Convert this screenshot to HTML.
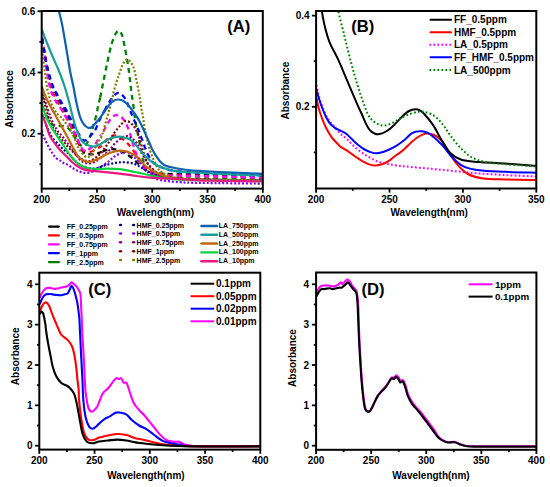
<!DOCTYPE html>
<html><head><meta charset="utf-8"><style>
html,body{margin:0;padding:0;background:#fff;}
svg{display:block;}
text{font-family:"Liberation Sans", sans-serif;fill:#000;}
</style></head><body>
<svg width="550" height="487" viewBox="0 0 550 487">
<rect x="0" y="0" width="550" height="487" fill="#fff"/>
<clipPath id="cA"><rect x="41.70" y="11.00" width="221.10" height="177.60"/></clipPath>
<path d="M41.80 104.00 C42.17 105.00 43.13 107.92 44.00 110.00 C44.87 112.08 46.00 114.58 47.00 116.50 C48.00 118.42 48.95 120.08 50.00 121.50 C51.05 122.92 52.22 124.22 53.30 125.00 C54.38 125.78 55.47 126.03 56.50 126.20 C57.53 126.37 58.28 126.00 59.50 126.00 C60.72 126.00 62.55 125.95 63.80 126.20 C65.05 126.45 66.05 126.95 67.00 127.50 C67.95 128.05 68.67 128.58 69.50 129.50 C70.33 130.42 71.10 131.67 72.00 133.00 C72.90 134.33 73.90 136.00 74.90 137.50 C75.90 139.00 76.98 140.67 78.00 142.00 C79.02 143.33 80.00 144.75 81.00 145.50 C82.00 146.25 83.03 146.83 84.00 146.50 C84.97 146.17 85.98 144.65 86.80 143.50 C87.62 142.35 88.30 140.97 88.90 139.60 C89.50 138.23 89.92 136.62 90.40 135.30 C90.88 133.98 91.27 133.50 91.80 131.70 C92.33 129.90 92.82 127.33 93.60 124.50 C94.38 121.67 95.75 117.83 96.50 114.70 C97.25 111.57 97.48 108.57 98.10 105.70 C98.72 102.83 99.35 101.37 100.20 97.50" fill="none" stroke="#008000" stroke-width="2.30" stroke-dasharray="5.1 4.0" stroke-dashoffset="6.6" stroke-linejoin="round" clip-path="url(#cA)"/>
<path d="M100.20 97.50 C101.05 93.63 102.02 88.30 103.20 82.50 C104.38 76.70 105.93 69.00 107.30 62.70 C108.67 56.40 110.03 49.48 111.40 44.70 C112.77 39.92 114.27 36.33 115.50 34.00 C116.73 31.67 117.72 30.53 118.80 30.70 C119.88 30.87 121.03 32.40 122.00 35.00 C122.97 37.60 123.62 41.40 124.60 46.30 C125.58 51.20 126.95 58.37 127.90 64.40 C128.85 70.43 129.70 77.77 130.30 82.50 C130.90 87.23 131.00 89.08 131.50 92.80 C132.00 96.52 132.70 100.35 133.30 104.80 C133.90 109.25 134.33 114.58 135.10 119.50 C135.87 124.42 136.97 129.38 137.90 134.30 C138.83 139.22 139.77 144.38 140.70 149.00 C141.63 153.62 142.43 158.30 143.50 162.00 C144.57 165.70 145.18 168.95 147.10 171.20 C149.02 173.45 151.18 174.43 155.00 175.50 C158.82 176.57 165.00 177.13 170.00 177.60 C175.00 178.07 180.00 178.17 185.00 178.30 C190.00 178.43 187.00 178.23 200.00 178.40 C213.00 178.57 252.50 179.15 263.00 179.30" fill="none" stroke="#008000" stroke-width="2.30" stroke-dasharray="5.1 4.0" stroke-dashoffset="8.99" stroke-linejoin="round" clip-path="url(#cA)"/>
<path d="M41.80 36.00 C42.28 38.83 43.77 47.75 44.70 53.00 C45.63 58.25 46.43 63.17 47.40 67.50 C48.37 71.83 49.47 75.57 50.50 79.00 C51.53 82.43 52.47 85.15 53.60 88.10 C54.73 91.05 55.97 93.93 57.30 96.70 C58.63 99.47 60.18 102.15 61.60 104.70 C63.02 107.25 64.43 109.45 65.80 112.00 C67.17 114.55 68.55 117.17 69.80 120.00 C71.05 122.83 72.18 126.08 73.30 129.00 C74.42 131.92 75.47 134.83 76.50 137.50 C77.53 140.17 78.32 142.50 79.50 145.00 C80.68 147.50 82.37 151.02 83.60 152.50 C84.83 153.98 85.38 153.60 86.90 153.90 C88.42 154.20 91.18 154.30 92.70 154.30 C94.22 154.30 94.50 154.32 96.00 153.90 C97.50 153.48 100.03 152.42 101.70 151.80" fill="none" stroke="#000000" stroke-width="2.30" stroke-dasharray="5.1 4.0" stroke-dashoffset="6.6" stroke-linejoin="round" clip-path="url(#cA)"/>
<path d="M101.70 151.80 C103.37 151.18 104.48 150.63 106.00 150.20 C107.52 149.77 109.30 149.35 110.80 149.20 C112.30 149.05 113.47 149.03 115.00 149.30 C116.53 149.57 118.42 150.22 120.00 150.80 C121.58 151.38 123.08 152.03 124.50 152.80 C125.92 153.57 127.18 154.48 128.50 155.40 C129.82 156.32 130.98 157.12 132.40 158.30 C133.82 159.48 135.43 161.05 137.00 162.50 C138.57 163.95 140.13 165.62 141.80 167.00 C143.47 168.38 144.80 169.83 147.00 170.80 C149.20 171.77 152.00 172.30 155.00 172.80 C158.00 173.30 160.83 173.55 165.00 173.80 C169.17 174.05 174.17 174.17 180.00 174.30 C185.83 174.43 186.17 174.27 200.00 174.60 C213.83 174.93 252.50 176.02 263.00 176.30" fill="none" stroke="#000000" stroke-width="2.30" stroke-dasharray="5.1 4.0" stroke-dashoffset="8.19" stroke-linejoin="round" clip-path="url(#cA)"/>
<path d="M41.80 36.00 C42.12 38.00 43.05 43.67 43.70 48.00 C44.35 52.33 45.02 57.50 45.70 62.00 C46.38 66.50 47.08 71.33 47.80 75.00 C48.52 78.67 49.25 81.20 50.00 84.00 C50.75 86.80 51.20 89.17 52.30 91.80 C53.40 94.43 55.17 97.13 56.60 99.80 C58.03 102.47 59.45 105.15 60.90 107.80 C62.35 110.45 63.82 112.97 65.30 115.70 C66.78 118.43 68.37 121.40 69.80 124.20 C71.23 127.00 72.67 129.78 73.90 132.50 C75.13 135.22 76.18 138.17 77.20 140.50 C78.22 142.83 79.07 144.88 80.00 146.50 C80.93 148.12 81.80 149.40 82.80 150.20 C83.80 151.00 84.77 151.03 86.00 151.30 C87.23 151.57 88.78 152.02 90.20 151.80 C91.62 151.58 93.13 150.68 94.50 150.00 C95.87 149.32 97.33 148.28 98.40 147.70 C99.47 147.12 99.97 147.37 100.90 146.50" fill="none" stroke="#ff0000" stroke-width="2.30" stroke-dasharray="5.1 4.0" stroke-dashoffset="6.6" stroke-linejoin="round" clip-path="url(#cA)"/>
<path d="M100.90 146.50 C101.83 145.63 102.82 143.83 104.00 142.50 C105.18 141.17 106.67 139.57 108.00 138.50 C109.33 137.43 111.00 136.60 112.00 136.10 C113.00 135.60 113.17 135.52 114.00 135.50 C114.83 135.48 115.83 135.58 117.00 136.00 C118.17 136.42 119.75 137.25 121.00 138.00 C122.25 138.75 123.38 139.58 124.50 140.50 C125.62 141.42 126.85 142.62 127.70 143.50 C128.55 144.38 128.67 144.65 129.60 145.80 C130.53 146.95 132.23 148.95 133.30 150.40 C134.37 151.85 134.88 152.90 136.00 154.50 C137.12 156.10 138.50 158.00 140.00 160.00 C141.50 162.00 143.00 164.58 145.00 166.50 C147.00 168.42 148.67 170.12 152.00 171.50 C155.33 172.88 160.33 174.10 165.00 174.80 C169.67 175.50 174.17 175.50 180.00 175.70 C185.83 175.90 186.17 175.68 200.00 176.00 C213.83 176.32 252.50 177.33 263.00 177.60" fill="none" stroke="#ff0000" stroke-width="2.30" stroke-dasharray="5.1 4.0" stroke-dashoffset="3.66" stroke-linejoin="round" clip-path="url(#cA)"/>
<path d="M41.80 35.00 C42.08 37.00 42.88 42.50 43.50 47.00 C44.12 51.50 44.83 57.33 45.50 62.00 C46.17 66.67 46.88 71.25 47.50 75.00 C48.12 78.75 48.40 81.25 49.20 84.50 C50.00 87.75 51.07 91.50 52.30 94.50 C53.53 97.50 55.05 99.98 56.60 102.50 C58.15 105.02 59.95 106.98 61.60 109.60 C63.25 112.22 64.87 115.27 66.50 118.20 C68.13 121.13 69.90 124.47 71.40 127.20 C72.90 129.93 74.27 132.13 75.50 134.60 C76.73 137.07 77.92 140.05 78.80 142.00 C79.68 143.95 80.13 145.00 80.80 146.30 C81.47 147.60 81.93 149.02 82.80 149.80 C83.67 150.58 84.80 151.22 86.00 151.00 C87.20 150.78 88.62 149.45 90.00 148.50 C91.38 147.55 93.03 146.67 94.30 145.30 C95.57 143.93 96.57 141.93 97.60 140.30 C98.63 138.67 99.53 137.00 100.50 135.50" fill="none" stroke="#ff00ff" stroke-width="2.30" stroke-dasharray="5.1 4.0" stroke-dashoffset="6.6" stroke-linejoin="round" clip-path="url(#cA)"/>
<path d="M100.50 135.50 C101.47 134.00 102.15 133.40 103.40 131.30 C104.65 129.20 106.65 125.12 108.00 122.90 C109.35 120.68 110.33 119.27 111.50 118.00 C112.67 116.73 113.67 115.65 115.00 115.30 C116.33 114.95 118.25 115.42 119.50 115.90 C120.75 116.38 121.45 117.02 122.50 118.20 C123.55 119.38 124.62 120.63 125.80 123.00 C126.98 125.37 128.35 128.73 129.60 132.40 C130.85 136.07 131.92 140.68 133.30 145.00 C134.68 149.32 136.45 154.80 137.90 158.30 C139.35 161.80 140.32 163.80 142.00 166.00 C143.68 168.20 145.00 169.97 148.00 171.50 C151.00 173.03 154.67 174.50 160.00 175.20 C165.33 175.90 173.33 175.57 180.00 175.70 C186.67 175.83 186.17 175.68 200.00 176.00 C213.83 176.32 252.50 177.33 263.00 177.60" fill="none" stroke="#ff00ff" stroke-width="2.30" stroke-dasharray="5.1 4.0" stroke-dashoffset="4.22" stroke-linejoin="round" clip-path="url(#cA)"/>
<path d="M41.80 36.50 C42.08 38.25 42.80 42.75 43.50 47.00 C44.20 51.25 45.08 57.33 46.00 62.00 C46.92 66.67 47.95 71.07 49.00 75.00 C50.05 78.93 51.13 82.70 52.30 85.60 C53.47 88.50 54.67 89.93 56.00 92.40 C57.33 94.87 58.75 97.73 60.30 100.40 C61.85 103.07 63.65 105.47 65.30 108.40 C66.95 111.33 68.67 114.98 70.20 118.00 C71.73 121.02 73.12 123.92 74.50 126.50 C75.88 129.08 77.25 131.45 78.50 133.50 C79.75 135.55 81.00 137.63 82.00 138.80 C83.00 139.97 83.58 140.38 84.50 140.50 C85.42 140.62 86.42 140.35 87.50 139.50 C88.58 138.65 90.00 136.65 91.00 135.40 C92.00 134.15 92.67 133.15 93.50 132.00 C94.33 130.85 94.95 130.57 96.00 128.50 C97.05 126.43 98.35 122.65 99.80 119.60 C101.25 116.55 103.20 113.00 104.70 110.20" fill="none" stroke="#0000ff" stroke-width="2.30" stroke-dasharray="5.1 4.0" stroke-dashoffset="6.6" stroke-linejoin="round" clip-path="url(#cA)"/>
<path d="M104.70 110.20 C106.20 107.40 107.30 105.20 108.80 102.80 C110.30 100.40 112.20 97.43 113.70 95.80 C115.20 94.17 116.58 93.30 117.80 93.00 C119.02 92.70 119.87 93.20 121.00 94.00 C122.13 94.80 123.60 96.38 124.60 97.80 C125.60 99.22 126.10 100.47 127.00 102.50 C127.90 104.53 128.97 107.42 130.00 110.00 C131.03 112.58 131.98 115.17 133.20 118.00 C134.42 120.83 136.20 124.40 137.30 127.00 C138.40 129.60 138.85 131.10 139.80 133.60 C140.75 136.10 141.80 138.85 143.00 142.00 C144.20 145.15 145.38 149.17 147.00 152.50 C148.62 155.83 150.22 159.50 152.70 162.00 C155.18 164.50 158.52 166.08 161.90 167.50 C165.28 168.92 166.65 169.60 173.00 170.50 C179.35 171.40 185.00 172.08 200.00 172.90 C215.00 173.72 252.50 174.98 263.00 175.40" fill="none" stroke="#0000ff" stroke-width="2.30" stroke-dasharray="5.1 4.0" stroke-dashoffset="0.33" stroke-linejoin="round" clip-path="url(#cA)"/>
<path d="M41.80 130.50 C42.02 131.27 42.58 133.62 43.10 135.10 C43.62 136.58 43.98 137.45 44.90 139.40 C45.82 141.35 47.37 144.53 48.60 146.80 C49.83 149.07 51.07 151.15 52.30 153.00 C53.53 154.85 54.58 156.58 56.00 157.90 C57.42 159.22 59.52 160.05 60.80 160.90 C62.08 161.75 62.60 162.38 63.70 163.00 C64.80 163.62 66.23 163.98 67.40 164.60 C68.57 165.22 69.60 166.02 70.70 166.70 C71.80 167.38 72.83 168.02 74.00 168.70 C75.17 169.38 76.55 170.25 77.70 170.80 C78.85 171.35 79.75 171.65 80.90 172.00 C82.05 172.35 83.37 172.75 84.60 172.90 C85.83 173.05 87.00 173.12 88.30 172.90 C89.60 172.68 91.12 172.17 92.40 171.60 C93.68 171.03 94.75 170.27 96.00 169.50 C97.25 168.73 98.77 167.63 99.90 167.00 C101.03 166.37 101.25 166.70 102.80 165.70 C104.35 164.70 107.20 162.55 109.20 161.00 C111.20 159.45 112.63 157.78 114.80 156.40 C116.97 155.02 120.00 153.35 122.20 152.70 C124.40 152.05 125.75 151.57 128.00 152.50 C130.25 153.43 133.40 156.30 135.70 158.30 C138.00 160.30 139.97 162.43 141.80 164.50 C143.63 166.57 145.00 168.78 146.70 170.70 C148.40 172.62 149.78 174.45 152.00 176.00 C154.22 177.55 155.33 178.97 160.00 180.00 C164.67 181.03 173.33 181.72 180.00 182.20 C186.67 182.68 186.17 182.67 200.00 182.90 C213.83 183.13 252.50 183.48 263.00 183.60" fill="none" stroke="#8000ff" stroke-width="2.20" stroke-dasharray="2 1.9"  stroke-linejoin="round" clip-path="url(#cA)"/>
<path d="M41.80 114.00 C42.10 114.52 43.13 116.07 43.60 117.10 C44.07 118.13 44.27 119.08 44.60 120.20 C44.93 121.32 45.17 122.60 45.60 123.80 C46.03 125.00 46.63 126.15 47.20 127.40 C47.77 128.65 48.45 130.10 49.00 131.30 C49.55 132.50 49.73 133.25 50.50 134.60 C51.27 135.95 52.35 137.85 53.60 139.40 C54.85 140.95 56.80 142.63 58.00 143.90 C59.20 145.17 59.78 146.00 60.80 147.00 C61.82 148.00 63.00 148.95 64.10 149.90 C65.20 150.85 66.30 151.68 67.40 152.70 C68.50 153.72 69.53 154.75 70.70 156.00 C71.87 157.25 72.85 158.73 74.40 160.20 C75.95 161.67 78.07 163.58 80.00 164.80 C81.93 166.02 84.00 166.87 86.00 167.50 C88.00 168.13 90.17 168.48 92.00 168.60 C93.83 168.72 95.05 168.68 97.00 168.20 C98.95 167.72 101.35 166.43 103.70 165.70 C106.05 164.97 108.63 164.35 111.10 163.80 C113.57 163.25 115.88 162.63 118.50 162.40 C121.12 162.17 124.18 162.17 126.80 162.40 C129.42 162.63 132.05 163.10 134.20 163.80 C136.35 164.50 138.02 165.67 139.70 166.60 C141.38 167.53 142.30 168.32 144.30 169.40 C146.30 170.48 148.25 171.70 151.70 173.10 C155.15 174.50 159.45 176.75 165.00 177.80 C170.55 178.85 179.17 179.07 185.00 179.40 C190.83 179.73 187.00 179.60 200.00 179.80 C213.00 180.00 252.50 180.47 263.00 180.60" fill="none" stroke="#000080" stroke-width="2.20" stroke-dasharray="2 1.9"  stroke-linejoin="round" clip-path="url(#cA)"/>
<path d="M41.80 91.00 C42.00 91.67 42.55 93.58 43.00 95.00 C43.45 96.42 44.00 98.00 44.50 99.50 C45.00 101.00 45.50 102.50 46.00 104.00 C46.50 105.50 46.92 106.82 47.50 108.50 C48.08 110.18 48.95 112.58 49.50 114.10 C50.05 115.62 50.33 116.42 50.80 117.60 C51.27 118.78 51.75 120.00 52.30 121.20 C52.85 122.40 53.47 123.60 54.10 124.80 C54.73 126.00 55.42 127.23 56.10 128.40 C56.78 129.57 57.42 130.77 58.20 131.80 C58.98 132.83 59.93 133.60 60.80 134.60 C61.67 135.60 62.60 136.73 63.40 137.80 C64.20 138.87 64.88 140.05 65.60 141.00 C66.32 141.95 66.97 142.58 67.70 143.50 C68.43 144.42 69.12 145.33 70.00 146.50 C70.88 147.67 71.92 149.08 73.00 150.50 C74.08 151.92 75.38 153.50 76.50 155.00 C77.62 156.50 78.52 158.25 79.70 159.50 C80.88 160.75 82.40 161.87 83.60 162.50 C84.80 163.13 85.80 163.17 86.90 163.30 C88.00 163.43 88.97 163.50 90.20 163.30 C91.43 163.10 92.83 162.82 94.30 162.10 C95.77 161.38 97.42 160.17 99.00 159.00 C100.58 157.83 101.98 156.63 103.80 155.10 C105.62 153.57 108.07 151.73 109.90 149.80 C111.73 147.87 113.07 145.32 114.80 143.50 C116.53 141.68 118.77 140.05 120.30 138.90 C121.83 137.75 122.77 137.07 124.00 136.60 C125.23 136.13 126.47 135.88 127.70 136.10 C128.93 136.32 130.32 137.22 131.40 137.90 C132.48 138.58 133.27 139.27 134.20 140.20 C135.13 141.13 135.95 141.95 137.00 143.50 C138.05 145.05 139.33 147.25 140.50 149.50 C141.67 151.75 142.58 154.42 144.00 157.00 C145.42 159.58 147.17 162.58 149.00 165.00 C150.83 167.42 152.33 169.42 155.00 171.50 C157.67 173.58 157.50 176.17 165.00 177.50 C172.50 178.83 183.67 179.02 200.00 179.50 C216.33 179.98 252.50 180.25 263.00 180.40" fill="none" stroke="#800080" stroke-width="2.20" stroke-dasharray="2 1.9"  stroke-linejoin="round" clip-path="url(#cA)"/>
<path d="M41.80 93.50 C42.17 94.75 43.30 98.58 44.00 101.00 C44.70 103.42 45.33 105.58 46.00 108.00 C46.67 110.42 47.33 113.25 48.00 115.50 C48.67 117.75 49.33 119.75 50.00 121.50 C50.67 123.25 51.33 124.70 52.00 126.00 C52.67 127.30 53.17 128.05 54.00 129.30 C54.83 130.55 56.00 132.13 57.00 133.50 C58.00 134.87 59.00 136.25 60.00 137.50 C61.00 138.75 62.00 139.83 63.00 141.00 C64.00 142.17 64.83 143.17 66.00 144.50 C67.17 145.83 68.50 147.42 70.00 149.00 C71.50 150.58 73.33 152.50 75.00 154.00 C76.67 155.50 78.33 156.92 80.00 158.00 C81.67 159.08 83.33 160.00 85.00 160.50 C86.67 161.00 88.58 161.22 90.00 161.00 C91.42 160.78 92.37 159.90 93.50 159.20 C94.63 158.50 95.77 157.62 96.80 156.80 C97.83 155.98 98.75 155.20 99.70 154.30 C100.65 153.40 101.68 152.43 102.50 151.40 C103.32 150.37 103.90 149.12 104.60 148.10 C105.30 147.08 105.95 146.32 106.70 145.30 C107.45 144.28 108.28 143.13 109.10 142.00 C109.92 140.87 110.83 139.87 111.60 138.50 C112.37 137.13 112.65 135.52 113.70 133.80 C114.75 132.08 116.80 129.60 117.90 128.20 C119.00 126.80 119.42 126.38 120.30 125.40 C121.18 124.42 122.28 123.00 123.20 122.30 C124.12 121.60 124.75 121.25 125.80 121.20 C126.85 121.15 128.27 121.30 129.50 122.00 C130.73 122.70 132.23 124.28 133.20 125.40 C134.17 126.52 134.62 127.53 135.30 128.70 C135.98 129.87 136.60 130.85 137.30 132.40 C138.00 133.95 138.63 135.23 139.50 138.00 C140.37 140.77 141.58 145.83 142.50 149.00 C143.42 152.17 144.08 154.50 145.00 157.00 C145.92 159.50 146.67 161.92 148.00 164.00 C149.33 166.08 150.67 167.53 153.00 169.50 C155.33 171.47 156.67 174.25 162.00 175.80 C167.33 177.35 178.67 178.18 185.00 178.80 C191.33 179.42 187.00 179.23 200.00 179.50 C213.00 179.77 252.50 180.25 263.00 180.40" fill="none" stroke="#800000" stroke-width="2.20" stroke-dasharray="2 1.9"  stroke-linejoin="round" clip-path="url(#cA)"/>
<path d="M41.80 50.00 C41.95 50.83 42.22 51.55 42.70 55.00 C43.18 58.45 43.97 65.28 44.70 70.70 C45.43 76.12 46.55 84.03 47.10 87.50 C47.65 90.97 47.70 90.22 48.00 91.50 C48.30 92.78 48.58 93.92 48.90 95.20 C49.22 96.48 49.53 97.87 49.90 99.20 C50.27 100.53 50.65 101.97 51.10 103.20 C51.55 104.43 52.03 105.47 52.60 106.60 C53.17 107.73 53.83 108.88 54.50 110.00 C55.17 111.12 55.70 112.27 56.60 113.30 C57.50 114.33 58.85 115.23 59.90 116.20 C60.95 117.17 62.02 118.08 62.90 119.10 C63.78 120.12 64.45 121.28 65.20 122.30 C65.95 123.32 66.62 124.12 67.40 125.20 C68.18 126.28 69.07 127.37 69.90 128.80 C70.73 130.23 71.63 132.25 72.40 133.80 C73.17 135.35 73.83 136.52 74.50 138.10 C75.17 139.68 75.87 141.88 76.40 143.30 C76.93 144.72 77.15 145.50 77.70 146.60 C78.25 147.70 78.95 148.82 79.70 149.90 C80.45 150.98 81.38 152.08 82.20 153.10 C83.02 154.12 83.67 155.32 84.60 156.00 C85.53 156.68 86.73 157.35 87.80 157.20 C88.87 157.05 89.80 156.63 91.00 155.10 C92.20 153.57 93.83 150.18 95.00 148.00 C96.17 145.82 97.02 143.68 98.00 142.00 C98.98 140.32 100.15 139.27 100.90 137.90 C101.65 136.53 102.02 135.03 102.50 133.80 C102.98 132.57 103.43 131.77 103.80 130.50 C104.17 129.23 104.20 128.15 104.70 126.20 C105.20 124.25 106.12 121.27 106.80 118.80 C107.48 116.33 108.27 113.32 108.80 111.40 C109.33 109.48 109.52 109.22 110.00 107.30 C110.48 105.38 111.22 101.82 111.70 99.90 C112.18 97.98 112.53 97.33 112.90 95.80 C113.27 94.27 113.05 93.75 113.90 90.70 C114.75 87.65 116.50 81.88 118.00 77.50 C119.50 73.12 121.25 67.40 122.90 64.40 C124.55 61.40 126.12 58.95 127.90 59.50 C129.68 60.05 132.10 63.87 133.60 67.70 C135.10 71.53 135.87 77.53 136.90 82.50 C137.93 87.47 139.05 93.08 139.80 97.50 C140.55 101.92 140.85 105.72 141.40 109.00 C141.95 112.28 142.55 113.92 143.10 117.20 C143.65 120.48 144.03 124.90 144.70 128.70 C145.37 132.50 146.08 136.00 147.10 140.00 C148.12 144.00 149.25 148.43 150.80 152.70 C152.35 156.97 154.55 162.30 156.40 165.60 C158.25 168.90 158.80 170.52 161.90 172.50 C165.00 174.48 168.65 176.37 175.00 177.50 C181.35 178.63 185.33 178.83 200.00 179.30 C214.67 179.77 252.50 180.13 263.00 180.30" fill="none" stroke="#808000" stroke-width="2.20" stroke-dasharray="2 1.9"  stroke-linejoin="round" clip-path="url(#cA)"/>
<path d="M41.80 86.00 C42.32 87.50 43.87 92.37 44.90 95.00 C45.93 97.63 46.88 99.55 48.00 101.80 C49.12 104.05 50.47 106.42 51.60 108.50 C52.73 110.58 53.65 112.22 54.80 114.30 C55.95 116.38 57.25 118.75 58.50 121.00 C59.75 123.25 61.13 125.72 62.30 127.80 C63.47 129.88 64.42 131.53 65.50 133.50 C66.58 135.47 67.72 137.55 68.80 139.60 C69.88 141.65 70.97 143.90 72.00 145.80 C73.03 147.70 73.98 149.27 75.00 151.00 C76.02 152.73 76.90 154.70 78.10 156.20 C79.30 157.70 80.80 159.10 82.20 160.00 C83.60 160.90 85.12 161.32 86.50 161.60 C87.88 161.88 89.20 161.88 90.50 161.70 C91.80 161.52 92.98 160.98 94.30 160.50 C95.62 160.02 97.03 159.45 98.40 158.80 C99.77 158.15 101.12 157.35 102.50 156.60 C103.88 155.85 105.12 155.03 106.70 154.30 C108.28 153.57 109.88 152.82 112.00 152.20 C114.12 151.58 117.23 150.77 119.40 150.60 C121.57 150.43 123.15 150.82 125.00 151.20 C126.85 151.58 128.75 152.13 130.50 152.90 C132.25 153.67 133.95 154.62 135.50 155.80 C137.05 156.98 137.87 158.08 139.80 160.00 C141.73 161.92 144.33 165.17 147.10 167.30 C149.87 169.43 153.42 171.32 156.40 172.80 C159.38 174.28 161.90 175.23 165.00 176.20 C168.10 177.17 170.83 178.02 175.00 178.60 C179.17 179.18 185.83 179.47 190.00 179.70 C194.17 179.93 187.83 179.78 200.00 180.00 C212.17 180.22 252.50 180.83 263.00 181.00" fill="none" stroke="#c06a10" stroke-width="2.20"   stroke-linejoin="round" clip-path="url(#cA)"/>
<path d="M41.80 102.00 C42.12 103.33 42.98 107.50 43.70 110.00 C44.42 112.50 45.27 114.95 46.10 117.00 C46.93 119.05 47.83 120.65 48.70 122.30 C49.57 123.95 50.45 125.45 51.30 126.90 C52.15 128.35 52.95 129.65 53.80 131.00 C54.65 132.35 55.37 133.42 56.40 135.00 C57.43 136.58 58.73 138.67 60.00 140.50 C61.27 142.33 62.63 144.00 64.00 146.00 C65.37 148.00 66.82 150.50 68.20 152.50 C69.58 154.50 70.93 156.38 72.30 158.00 C73.67 159.62 75.03 160.98 76.40 162.20 C77.77 163.42 79.13 164.45 80.50 165.30 C81.87 166.15 82.82 166.77 84.60 167.30 C86.38 167.83 88.63 168.22 91.20 168.50 C93.77 168.78 97.32 168.98 100.00 169.00 C102.68 169.02 104.03 168.57 107.30 168.60 C110.57 168.63 115.48 168.75 119.60 169.20 C123.72 169.65 127.88 170.50 132.00 171.30 C136.12 172.10 140.47 173.13 144.30 174.00 C148.13 174.87 150.72 175.70 155.00 176.50 C159.28 177.30 165.00 178.23 170.00 178.80 C175.00 179.37 180.00 179.67 185.00 179.90 C190.00 180.13 187.00 179.98 200.00 180.20 C213.00 180.42 252.50 181.03 263.00 181.20" fill="none" stroke="#10d040" stroke-width="2.20"   stroke-linejoin="round" clip-path="url(#cA)"/>
<path d="M41.80 113.50 C42.18 114.53 43.38 117.82 44.10 119.70 C44.82 121.58 45.50 123.08 46.10 124.80 C46.70 126.52 47.18 128.37 47.70 130.00 C48.22 131.63 48.48 133.02 49.20 134.60 C49.92 136.18 50.87 137.77 52.00 139.50 C53.13 141.23 54.67 143.27 56.00 145.00 C57.33 146.73 58.65 148.40 60.00 149.90 C61.35 151.40 62.73 152.63 64.10 154.00 C65.47 155.37 66.83 156.73 68.20 158.10 C69.57 159.47 70.93 160.97 72.30 162.20 C73.67 163.43 75.03 164.55 76.40 165.50 C77.77 166.45 79.13 167.22 80.50 167.90 C81.87 168.58 82.82 169.12 84.60 169.60 C86.38 170.08 88.63 170.47 91.20 170.80 C93.77 171.13 95.27 171.12 100.00 171.60 C104.73 172.08 114.27 173.08 119.60 173.70 C124.93 174.32 126.93 174.65 132.00 175.30 C137.07 175.95 141.55 176.95 150.00 177.60 C158.45 178.25 174.37 178.75 182.70 179.20 C191.03 179.65 186.62 179.93 200.00 180.30 C213.38 180.67 252.50 181.22 263.00 181.40" fill="none" stroke="#e8187f" stroke-width="2.20"   stroke-linejoin="round" clip-path="url(#cA)"/>
<path d="M41.80 29.30 C42.53 31.25 44.45 36.58 46.20 41.00 C47.95 45.42 50.25 50.97 52.30 55.80 C54.35 60.63 56.88 66.13 58.50 70.00 C60.12 73.87 60.98 76.25 62.00 79.00 C63.02 81.75 63.75 83.83 64.60 86.50 C65.45 89.17 66.27 92.08 67.10 95.00 C67.93 97.92 68.87 101.17 69.60 104.00 C70.33 106.83 70.88 109.50 71.50 112.00 C72.12 114.50 72.63 116.58 73.30 119.00 C73.97 121.42 74.77 124.25 75.50 126.50 C76.23 128.75 76.90 130.50 77.70 132.50 C78.50 134.50 79.33 136.78 80.30 138.50 C81.27 140.22 82.38 141.75 83.50 142.80 C84.62 143.85 85.83 144.27 87.00 144.80 C88.17 145.33 89.28 145.72 90.50 146.00 C91.72 146.28 92.98 146.63 94.30 146.50 C95.62 146.37 97.03 145.82 98.40 145.20 C99.77 144.58 101.12 143.62 102.50 142.80 C103.88 141.98 105.12 141.12 106.70 140.30 C108.28 139.48 109.87 138.52 112.00 137.90 C114.13 137.28 117.33 136.62 119.50 136.60 C121.67 136.58 123.17 137.27 125.00 137.80 C126.83 138.33 128.65 138.57 130.50 139.80 C132.35 141.03 133.93 142.78 136.10 145.20 C138.27 147.62 141.10 151.70 143.50 154.30 C145.90 156.90 148.42 159.05 150.50 160.80 C152.58 162.55 154.10 163.70 156.00 164.80 C157.90 165.90 159.27 166.48 161.90 167.40 C164.53 168.32 167.95 169.53 171.80 170.30 C175.65 171.07 180.30 171.57 185.00 172.00 C189.70 172.43 192.50 172.52 200.00 172.90 C207.50 173.28 219.50 173.85 230.00 174.30 C240.50 174.75 257.50 175.38 263.00 175.60" fill="none" stroke="#18a096" stroke-width="2.20"   stroke-linejoin="round" clip-path="url(#cA)"/>
<path d="M57.80 3.00 C58.00 4.33 58.27 7.33 59.00 11.00 C59.73 14.67 60.95 18.57 62.20 25.00 C63.45 31.43 65.17 41.80 66.50 49.60 C67.83 57.40 69.07 65.73 70.20 71.80 C71.33 77.87 72.38 81.47 73.30 86.00 C74.22 90.53 74.92 95.08 75.70 99.00 C76.48 102.92 77.22 106.37 78.00 109.50 C78.78 112.63 79.60 115.58 80.40 117.80 C81.20 120.02 81.95 121.43 82.80 122.80 C83.65 124.17 84.52 125.15 85.50 126.00 C86.48 126.85 87.70 127.70 88.70 127.90 C89.70 128.10 90.62 127.72 91.50 127.20 C92.38 126.68 93.03 125.78 94.00 124.80 C94.97 123.82 96.07 122.78 97.30 121.30 C98.53 119.82 100.03 117.75 101.40 115.90 C102.77 114.05 104.13 112.12 105.50 110.20 C106.87 108.28 108.23 105.98 109.60 104.40 C110.97 102.82 112.32 101.52 113.70 100.70 C115.08 99.88 116.52 99.57 117.90 99.50 C119.28 99.43 120.82 99.85 122.00 100.30 C123.18 100.75 123.92 101.33 125.00 102.20 C126.08 103.07 127.27 104.15 128.50 105.50 C129.73 106.85 131.15 108.63 132.40 110.30 C133.65 111.97 134.77 113.58 136.00 115.50 C137.23 117.42 138.55 119.47 139.80 121.80 C141.05 124.13 142.28 126.88 143.50 129.50 C144.72 132.12 146.02 135.08 147.10 137.50 C148.18 139.92 149.07 141.87 150.00 144.00 C150.93 146.13 151.62 148.22 152.70 150.30 C153.78 152.38 155.27 154.63 156.50 156.50 C157.73 158.37 158.85 160.12 160.10 161.50 C161.35 162.88 162.78 163.98 164.00 164.80 C165.22 165.62 165.57 165.87 167.40 166.40 C169.23 166.93 171.53 167.40 175.00 168.00 C178.47 168.60 184.03 169.52 188.20 170.00 C192.37 170.48 194.70 170.57 200.00 170.90 C205.30 171.23 209.50 171.52 220.00 172.00 C230.50 172.48 255.83 173.50 263.00 173.80" fill="none" stroke="#1060b0" stroke-width="2.20"   stroke-linejoin="round" clip-path="url(#cA)"/>
<rect x="41.70" y="11.00" width="221.10" height="177.60" fill="none" stroke="#000" stroke-width="2.00"/>
<line x1="41.70" y1="188.60" x2="41.70" y2="192.80" stroke="#000" stroke-width="1.80"/>
<text x="41.70" y="202.70" font-size="10.00" text-anchor="middle" font-weight="bold">200</text>
<line x1="96.98" y1="188.60" x2="96.98" y2="192.80" stroke="#000" stroke-width="1.80"/>
<text x="96.98" y="202.70" font-size="10.00" text-anchor="middle" font-weight="bold">250</text>
<line x1="152.25" y1="188.60" x2="152.25" y2="192.80" stroke="#000" stroke-width="1.80"/>
<text x="152.25" y="202.70" font-size="10.00" text-anchor="middle" font-weight="bold">300</text>
<line x1="207.53" y1="188.60" x2="207.53" y2="192.80" stroke="#000" stroke-width="1.80"/>
<text x="207.53" y="202.70" font-size="10.00" text-anchor="middle" font-weight="bold">350</text>
<line x1="262.80" y1="188.60" x2="262.80" y2="192.80" stroke="#000" stroke-width="1.80"/>
<text x="262.80" y="202.70" font-size="10.00" text-anchor="middle" font-weight="bold">400</text>
<line x1="69.34" y1="188.60" x2="69.34" y2="190.90" stroke="#000" stroke-width="1.80"/>
<line x1="124.61" y1="188.60" x2="124.61" y2="190.90" stroke="#000" stroke-width="1.80"/>
<line x1="179.89" y1="188.60" x2="179.89" y2="190.90" stroke="#000" stroke-width="1.80"/>
<line x1="235.16" y1="188.60" x2="235.16" y2="190.90" stroke="#000" stroke-width="1.80"/>
<line x1="37.50" y1="11.30" x2="41.70" y2="11.30" stroke="#000" stroke-width="1.80"/>
<text x="35.40" y="14.90" font-size="10.00" text-anchor="end" font-weight="bold">0.6</text>
<line x1="37.50" y1="72.50" x2="41.70" y2="72.50" stroke="#000" stroke-width="1.80"/>
<text x="35.40" y="76.10" font-size="10.00" text-anchor="end" font-weight="bold">0.4</text>
<line x1="37.50" y1="133.70" x2="41.70" y2="133.70" stroke="#000" stroke-width="1.80"/>
<text x="35.40" y="137.30" font-size="10.00" text-anchor="end" font-weight="bold">0.2</text>
<line x1="39.40" y1="41.90" x2="41.70" y2="41.90" stroke="#000" stroke-width="1.80"/>
<line x1="39.40" y1="103.10" x2="41.70" y2="103.10" stroke="#000" stroke-width="1.80"/>
<line x1="39.40" y1="164.30" x2="41.70" y2="164.30" stroke="#000" stroke-width="1.80"/>
<text x="0" y="0" font-size="10.00" text-anchor="middle" font-weight="bold" transform="translate(9.90 99.00) rotate(-90)" dominant-baseline="central">Absorbance</text>
<text x="116.70" y="216.00" font-size="10.00" text-anchor="start" font-weight="bold">Wavelength(nm)</text>
<text x="227.30" y="31.80" font-size="16.60" text-anchor="start" font-weight="bold">(A)</text>
<line x1="49" y1="226.60" x2="58.8" y2="226.60" stroke="#000000" stroke-width="2.3" stroke-linecap="round"/>
<text x="66.80" y="229.20" font-size="7.00" text-anchor="start" font-weight="bold">FF_0.25ppm</text>
<line x1="49" y1="235.40" x2="58.8" y2="235.40" stroke="#ff0000" stroke-width="2.3" stroke-linecap="round"/>
<text x="66.80" y="238.00" font-size="7.00" text-anchor="start" font-weight="bold">FF_0.5ppm</text>
<line x1="49" y1="244.30" x2="58.8" y2="244.30" stroke="#ff00ff" stroke-width="2.3" stroke-linecap="round"/>
<text x="66.80" y="246.90" font-size="7.00" text-anchor="start" font-weight="bold">FF_0.75ppm</text>
<line x1="49" y1="253.20" x2="58.8" y2="253.20" stroke="#0000ff" stroke-width="2.3" stroke-linecap="round"/>
<text x="66.80" y="255.80" font-size="7.00" text-anchor="start" font-weight="bold">FF_1ppm</text>
<line x1="49" y1="262.20" x2="58.8" y2="262.20" stroke="#008000" stroke-width="2.3" stroke-linecap="round"/>
<text x="66.80" y="264.80" font-size="7.00" text-anchor="start" font-weight="bold">FF_2.5ppm</text>
<ellipse cx="120.50" cy="224.90" rx="1.7" ry="1.25" fill="#000080"/>
<ellipse cx="133.60" cy="224.90" rx="1.7" ry="1.25" fill="#000080"/>
<text x="136.60" y="227.50" font-size="7.00" text-anchor="start" font-weight="bold">HMF_0.25ppm</text>
<ellipse cx="120.50" cy="233.50" rx="1.7" ry="1.25" fill="#8000ff"/>
<ellipse cx="133.60" cy="233.50" rx="1.7" ry="1.25" fill="#8000ff"/>
<text x="136.60" y="236.10" font-size="7.00" text-anchor="start" font-weight="bold">HMF_0.5ppm</text>
<ellipse cx="120.50" cy="242.30" rx="1.7" ry="1.25" fill="#800080"/>
<ellipse cx="133.60" cy="242.30" rx="1.7" ry="1.25" fill="#800080"/>
<text x="136.60" y="244.90" font-size="7.00" text-anchor="start" font-weight="bold">HMF_0.75ppm</text>
<ellipse cx="120.50" cy="251.20" rx="1.7" ry="1.25" fill="#800000"/>
<ellipse cx="133.60" cy="251.20" rx="1.7" ry="1.25" fill="#800000"/>
<text x="136.60" y="253.80" font-size="7.00" text-anchor="start" font-weight="bold">HMF_1ppm</text>
<ellipse cx="120.50" cy="260.10" rx="1.7" ry="1.25" fill="#808000"/>
<ellipse cx="133.60" cy="260.10" rx="1.7" ry="1.25" fill="#808000"/>
<text x="136.60" y="262.70" font-size="7.00" text-anchor="start" font-weight="bold">HMF_2.5ppm</text>
<line x1="201.4" y1="226.00" x2="217.1" y2="226.00" stroke="#1060b0" stroke-width="2.4" stroke-linecap="round"/>
<text x="218.80" y="228.00" font-size="7.00" text-anchor="start" font-weight="bold">LA_750ppm</text>
<line x1="201.4" y1="234.70" x2="217.1" y2="234.70" stroke="#18a096" stroke-width="2.4" stroke-linecap="round"/>
<text x="218.80" y="236.70" font-size="7.00" text-anchor="start" font-weight="bold">LA_500ppm</text>
<line x1="201.4" y1="243.50" x2="217.1" y2="243.50" stroke="#c06a10" stroke-width="2.4" stroke-linecap="round"/>
<text x="218.80" y="245.50" font-size="7.00" text-anchor="start" font-weight="bold">LA_250ppm</text>
<line x1="201.4" y1="252.40" x2="217.1" y2="252.40" stroke="#10d040" stroke-width="2.4" stroke-linecap="round"/>
<text x="218.80" y="254.40" font-size="7.00" text-anchor="start" font-weight="bold">LA_100ppm</text>
<line x1="201.4" y1="261.30" x2="217.1" y2="261.30" stroke="#e8187f" stroke-width="2.4" stroke-linecap="round"/>
<text x="218.80" y="263.30" font-size="7.00" text-anchor="start" font-weight="bold">LA_10ppm</text>
<clipPath id="cB"><rect x="316.10" y="11.00" width="220.20" height="177.50"/></clipPath>
<path d="M316.50 84.90 C316.75 86.08 317.42 89.48 318.00 92.00 C318.58 94.52 319.17 97.25 320.00 100.00 C320.83 102.75 321.93 105.83 323.00 108.50 C324.07 111.17 325.23 113.83 326.40 116.00 C327.57 118.17 328.63 119.67 330.00 121.50 C331.37 123.33 332.93 125.00 334.60 127.00 C336.27 129.00 338.07 131.60 340.00 133.50 C341.93 135.40 344.15 136.55 346.20 138.40 C348.25 140.25 350.25 142.65 352.30 144.60 C354.35 146.55 356.45 148.47 358.50 150.10 C360.55 151.73 362.55 153.07 364.60 154.40 C366.65 155.73 368.73 156.97 370.80 158.10 C372.87 159.23 374.95 160.38 377.00 161.20 C379.05 162.02 381.05 162.48 383.10 163.00 C385.15 163.52 387.03 163.88 389.30 164.30 C391.57 164.72 393.78 165.12 396.70 165.50 C399.62 165.88 401.48 166.08 406.80 166.60 C412.12 167.12 421.32 167.92 428.60 168.60 C435.88 169.28 443.22 169.98 450.50 170.70 C457.78 171.42 463.22 172.17 472.30 172.90 C481.38 173.63 494.22 174.50 505.00 175.10 C515.78 175.70 531.67 176.27 537.00 176.50" fill="none" stroke="#ff00ff" stroke-width="2.00" stroke-dasharray="1.8 2.2"  stroke-linejoin="round" clip-path="url(#cB)"/>
<path d="M316.50 98.00 C316.78 99.38 317.53 103.63 318.20 106.30 C318.87 108.97 319.68 111.53 320.50 114.00 C321.32 116.47 322.12 118.68 323.10 121.10 C324.08 123.52 325.30 126.32 326.40 128.50 C327.50 130.68 328.60 132.45 329.70 134.20 C330.80 135.95 331.63 137.37 333.00 139.00 C334.37 140.63 336.73 142.77 337.90 144.00 C339.07 145.23 338.62 145.38 340.00 146.40 C341.38 147.42 344.15 148.77 346.20 150.10 C348.25 151.43 350.25 152.97 352.30 154.40 C354.35 155.83 356.45 157.37 358.50 158.70 C360.55 160.03 362.55 161.37 364.60 162.40 C366.65 163.43 368.95 164.38 370.80 164.90 C372.65 165.42 373.85 165.60 375.70 165.50 C377.55 165.40 379.63 165.12 381.90 164.30 C384.17 163.48 387.05 162.03 389.30 160.60 C391.55 159.17 393.62 157.03 395.40 155.70 C397.18 154.37 398.40 153.80 400.00 152.60 C401.60 151.40 403.13 150.20 405.00 148.50 C406.87 146.80 409.03 144.32 411.20 142.40 C413.37 140.48 415.63 138.47 418.00 137.00 C420.37 135.53 423.23 134.10 425.40 133.60 C427.57 133.10 429.00 133.45 431.00 134.00 C433.00 134.55 435.40 135.48 437.40 136.90 C439.40 138.32 441.18 140.13 443.00 142.50 C444.82 144.87 445.97 147.48 448.30 151.10 C450.63 154.72 453.73 160.38 457.00 164.20 C460.27 168.02 463.53 171.63 467.90 174.00 C472.27 176.37 477.02 177.48 483.20 178.40 C489.38 179.32 496.03 179.23 505.00 179.50 C513.97 179.77 531.67 179.92 537.00 180.00" fill="none" stroke="#ff0000" stroke-width="2.00"   stroke-linejoin="round" clip-path="url(#cB)"/>
<path d="M316.50 89.90 C316.75 90.83 317.45 93.60 318.00 95.50 C318.55 97.40 318.97 98.88 319.80 101.30 C320.63 103.72 321.90 107.25 323.00 110.00 C324.10 112.75 325.23 115.55 326.40 117.80 C327.57 120.05 328.63 121.87 330.00 123.50 C331.37 125.13 332.93 126.43 334.60 127.60 C336.27 128.77 338.07 129.47 340.00 130.50 C341.93 131.53 344.15 132.28 346.20 133.80 C348.25 135.32 350.25 137.70 352.30 139.60 C354.35 141.50 356.45 143.55 358.50 145.20 C360.55 146.85 362.35 148.27 364.60 149.50 C366.85 150.73 369.93 151.98 372.00 152.60 C374.07 153.22 375.15 153.30 377.00 153.20 C378.85 153.10 381.05 152.62 383.10 152.00 C385.15 151.38 387.25 150.43 389.30 149.50 C391.35 148.57 393.62 147.43 395.40 146.40 C397.18 145.37 398.40 144.45 400.00 143.30 C401.60 142.15 403.13 141.12 405.00 139.50 C406.87 137.88 409.37 134.92 411.20 133.60 C413.03 132.28 414.37 132.00 416.00 131.60 C417.63 131.20 419.33 131.10 421.00 131.20 C422.67 131.30 424.37 131.62 426.00 132.20 C427.63 132.78 428.18 132.65 430.80 134.70 C433.42 136.75 438.07 140.68 441.70 144.50 C445.33 148.32 448.97 153.95 452.60 157.60 C456.23 161.25 459.13 164.28 463.50 166.40 C467.87 168.52 471.88 169.40 478.80 170.30 C485.72 171.20 495.30 171.38 505.00 171.80 C514.70 172.22 531.67 172.63 537.00 172.80" fill="none" stroke="#0000ff" stroke-width="2.00"   stroke-linejoin="round" clip-path="url(#cB)"/>
<path d="M320.50 4.00 C320.68 5.00 320.88 6.27 321.60 10.00 C322.32 13.73 323.43 20.93 324.80 26.40 C326.17 31.87 327.60 37.33 329.80 42.80 C332.00 48.27 335.00 52.65 338.00 59.20 C341.00 65.75 344.53 74.45 347.80 82.10 C351.07 89.75 355.20 99.62 357.60 105.10 C360.00 110.58 360.82 111.92 362.20 115.00 C363.58 118.08 364.67 121.13 365.90 123.60 C367.13 126.07 368.17 128.15 369.60 129.80 C371.03 131.45 372.87 132.78 374.50 133.50 C376.13 134.22 377.35 134.52 379.40 134.10 C381.45 133.68 384.33 132.53 386.80 131.00 C389.27 129.47 391.58 127.37 394.20 124.90 C396.82 122.43 400.03 118.52 402.50 116.20 C404.97 113.88 406.83 112.17 409.00 111.00 C411.17 109.83 413.67 109.28 415.50 109.20 C417.33 109.12 418.53 109.70 420.00 110.50 C421.47 111.30 422.13 111.60 424.30 114.00 C426.47 116.40 430.10 120.53 433.00 124.90 C435.90 129.27 438.78 135.47 441.70 140.20 C444.62 144.93 447.22 150.03 450.50 153.30 C453.78 156.57 456.68 158.35 461.40 159.80 C466.12 161.25 471.53 161.37 478.80 162.00 C486.07 162.63 495.30 162.93 505.00 163.60 C514.70 164.27 531.67 165.60 537.00 166.00" fill="none" stroke="#000000" stroke-width="2.00"   stroke-linejoin="round" clip-path="url(#cB)"/>
<path d="M336.00 0.00 C336.33 1.67 336.58 3.97 338.00 10.00 C339.42 16.03 342.32 27.45 344.50 36.20 C346.68 44.95 348.92 54.30 351.10 62.50 C353.28 70.70 355.42 78.30 357.60 85.40 C359.78 92.50 362.42 100.17 364.20 105.10 C365.98 110.03 367.00 112.53 368.30 115.00 C369.60 117.47 370.55 118.47 372.00 119.90 C373.45 121.33 375.15 122.67 377.00 123.60 C378.85 124.53 381.05 125.40 383.10 125.50 C385.15 125.60 387.25 124.92 389.30 124.20 C391.35 123.48 393.62 122.15 395.40 121.20 C397.18 120.25 398.23 119.45 400.00 118.50 C401.77 117.55 403.77 116.43 406.00 115.50 C408.23 114.57 411.07 113.55 413.40 112.90 C415.73 112.25 418.07 111.75 420.00 111.60 C421.93 111.45 423.17 111.60 425.00 112.00 C426.83 112.40 428.93 112.93 431.00 114.00 C433.07 115.07 435.23 116.40 437.40 118.40 C439.57 120.40 441.82 123.10 444.00 126.00 C446.18 128.90 447.60 131.98 450.50 135.80 C453.40 139.62 457.77 145.27 461.40 148.90 C465.03 152.53 468.30 155.42 472.30 157.60 C476.30 159.78 479.95 160.90 485.40 162.00 C490.85 163.10 496.40 163.47 505.00 164.20 C513.60 164.93 531.67 166.03 537.00 166.40" fill="none" stroke="#008000" stroke-width="2.00" stroke-dasharray="1.8 2.2"  stroke-linejoin="round" clip-path="url(#cB)"/>
<rect x="316.10" y="11.00" width="220.20" height="177.50" fill="none" stroke="#000" stroke-width="2.00"/>
<line x1="316.10" y1="188.50" x2="316.10" y2="192.70" stroke="#000" stroke-width="1.80"/>
<text x="316.10" y="202.60" font-size="10.00" text-anchor="middle" font-weight="bold">200</text>
<line x1="389.50" y1="188.50" x2="389.50" y2="192.70" stroke="#000" stroke-width="1.80"/>
<text x="389.50" y="202.60" font-size="10.00" text-anchor="middle" font-weight="bold">250</text>
<line x1="462.90" y1="188.50" x2="462.90" y2="192.70" stroke="#000" stroke-width="1.80"/>
<text x="462.90" y="202.60" font-size="10.00" text-anchor="middle" font-weight="bold">300</text>
<line x1="536.30" y1="188.50" x2="536.30" y2="192.70" stroke="#000" stroke-width="1.80"/>
<text x="536.30" y="202.60" font-size="10.00" text-anchor="middle" font-weight="bold">350</text>
<line x1="352.80" y1="188.50" x2="352.80" y2="190.80" stroke="#000" stroke-width="1.80"/>
<line x1="426.20" y1="188.50" x2="426.20" y2="190.80" stroke="#000" stroke-width="1.80"/>
<line x1="499.60" y1="188.50" x2="499.60" y2="190.80" stroke="#000" stroke-width="1.80"/>
<line x1="311.90" y1="15.60" x2="316.10" y2="15.60" stroke="#000" stroke-width="1.80"/>
<text x="309.60" y="19.20" font-size="10.00" text-anchor="end" font-weight="bold">0.4</text>
<line x1="311.90" y1="106.80" x2="316.10" y2="106.80" stroke="#000" stroke-width="1.80"/>
<text x="309.60" y="110.40" font-size="10.00" text-anchor="end" font-weight="bold">0.2</text>
<line x1="313.80" y1="61.20" x2="316.10" y2="61.20" stroke="#000" stroke-width="1.80"/>
<line x1="313.80" y1="152.40" x2="316.10" y2="152.40" stroke="#000" stroke-width="1.80"/>
<text x="0" y="0" font-size="10.00" text-anchor="middle" font-weight="bold" transform="translate(285.70 90.60) rotate(-90)" dominant-baseline="central">Absorbance</text>
<text x="390.50" y="216.20" font-size="10.00" text-anchor="start" font-weight="bold">Wavelength(nm)</text>
<text x="351.20" y="31.60" font-size="16.60" text-anchor="start" font-weight="bold">(B)</text>
<line x1="430.5" y1="19.70" x2="451.1" y2="19.70" stroke="#000000" stroke-width="2" stroke-linecap="round"/>
<text x="454.00" y="23.30" font-size="10.00" text-anchor="start" font-weight="bold">FF_0.5ppm</text>
<line x1="430.5" y1="32.20" x2="451.1" y2="32.20" stroke="#ff0000" stroke-width="2" stroke-linecap="round"/>
<text x="454.00" y="35.80" font-size="10.00" text-anchor="start" font-weight="bold">HMF_0.5ppm</text>
<line x1="429.4" y1="44.80" x2="451.4" y2="44.80" stroke="#ff00ff" stroke-width="2" stroke-dasharray="1.8 2.2"/>
<text x="454.00" y="48.40" font-size="10.00" text-anchor="start" font-weight="bold">LA_0.5ppm</text>
<line x1="430.5" y1="57.30" x2="451.1" y2="57.30" stroke="#0000ff" stroke-width="2" stroke-linecap="round"/>
<text x="454.00" y="60.90" font-size="10.00" text-anchor="start" font-weight="bold">FF_HMF_0.5ppm</text>
<line x1="429.4" y1="69.90" x2="451.4" y2="69.90" stroke="#008000" stroke-width="2" stroke-dasharray="1.8 2.2"/>
<text x="454.00" y="73.50" font-size="10.00" text-anchor="start" font-weight="bold">LA_500ppm</text>
<clipPath id="cC"><rect x="39.30" y="272.70" width="221.00" height="176.90"/></clipPath>
<path d="M39.80 297.80 C40.12 297.08 40.77 295.03 41.70 293.50 C42.63 291.97 43.97 289.53 45.40 288.60 C46.83 287.67 48.95 287.87 50.30 287.90 C51.65 287.93 52.47 288.68 53.50 288.80 C54.53 288.92 55.50 288.73 56.50 288.60 C57.50 288.47 58.48 288.22 59.50 288.00 C60.52 287.78 61.25 287.62 62.60 287.30 C63.95 286.98 66.45 286.57 67.60 286.10 C68.75 285.63 68.88 285.12 69.50 284.50 C70.12 283.88 70.72 282.60 71.30 282.40 C71.88 282.20 72.38 282.88 73.00 283.30 C73.62 283.72 74.05 283.82 75.00 284.90 C75.95 285.98 77.78 288.17 78.70 289.80 C79.62 291.43 80.10 292.03 80.50 294.70 C80.90 297.37 80.90 301.90 81.10 305.80 C81.30 309.70 81.48 313.23 81.70 318.10 C81.92 322.97 82.08 328.92 82.40 335.00 C82.72 341.08 83.20 347.22 83.60 354.60 C84.00 361.98 84.50 373.40 84.80 379.30 C85.10 385.20 85.17 387.13 85.40 390.00 C85.63 392.87 85.70 393.50 86.20 396.50 C86.70 399.50 87.43 405.48 88.40 408.00 C89.37 410.52 90.80 411.48 92.00 411.60 C93.20 411.72 94.60 409.78 95.60 408.70 C96.60 407.62 96.82 407.62 98.00 405.10 C99.18 402.58 101.00 396.42 102.70 393.60 C104.40 390.78 106.38 390.32 108.20 388.20 C110.02 386.08 112.23 382.57 113.60 380.90 C114.97 379.23 115.48 378.50 116.40 378.20 C117.32 377.90 118.28 379.10 119.10 379.10 C119.92 379.10 120.55 377.60 121.30 378.20 C122.05 378.80 122.75 381.95 123.60 382.70 C124.45 383.45 125.48 381.48 126.40 382.70 C127.32 383.92 127.90 386.67 129.10 390.00 C130.30 393.33 131.93 399.37 133.60 402.70 C135.27 406.03 137.28 407.87 139.10 410.00 C140.92 412.13 142.38 413.08 144.50 415.50 C146.62 417.92 149.37 421.48 151.80 424.50 C154.23 427.52 156.67 431.02 159.10 433.60 C161.53 436.18 163.98 438.63 166.40 440.00 C168.82 441.37 171.48 441.50 173.60 441.80 C175.72 442.10 177.28 441.35 179.10 441.80 C180.92 442.25 182.68 443.87 184.50 444.50 C186.32 445.13 187.42 445.33 190.00 445.60 C192.58 445.87 188.17 446.02 200.00 446.10 C211.83 446.18 250.83 446.10 261.00 446.10" fill="none" stroke="#ff00ff" stroke-width="2.10"   stroke-linejoin="round" clip-path="url(#cC)"/>
<path d="M39.80 304.00 C40.32 302.87 41.97 298.77 42.90 297.20 C43.83 295.63 44.57 295.12 45.40 294.60 C46.23 294.08 46.97 294.20 47.90 294.10 C48.83 294.00 49.98 293.90 51.00 294.00 C52.02 294.10 53.00 294.53 54.00 294.70 C55.00 294.87 55.97 294.90 57.00 295.00 C58.03 295.10 59.03 295.38 60.20 295.30 C61.37 295.22 62.77 294.80 64.00 294.50 C65.23 294.20 66.68 294.25 67.60 293.50 C68.52 292.75 68.88 291.23 69.50 290.00 C70.12 288.77 70.72 286.50 71.30 286.10 C71.88 285.70 72.35 286.28 73.00 287.60 C73.65 288.92 74.47 291.38 75.20 294.00 C75.93 296.62 76.72 299.28 77.40 303.30 C78.08 307.32 78.88 313.65 79.30 318.10 C79.72 322.55 79.60 323.92 79.90 330.00 C80.20 336.08 80.68 346.38 81.10 354.60 C81.52 362.82 82.03 371.83 82.40 379.30 C82.77 386.77 82.78 393.17 83.30 399.40 C83.82 405.63 84.53 412.17 85.50 416.70 C86.47 421.23 87.90 424.60 89.10 426.60 C90.30 428.60 91.63 428.63 92.70 428.70 C93.77 428.77 94.43 427.85 95.50 427.00 C96.57 426.15 97.60 424.92 99.10 423.60 C100.60 422.28 102.68 420.30 104.50 419.10 C106.32 417.90 108.17 417.47 110.00 416.40 C111.83 415.33 113.68 413.32 115.50 412.70 C117.32 412.08 119.08 412.40 120.90 412.70 C122.72 413.00 124.58 413.28 126.40 414.50 C128.22 415.72 129.68 418.17 131.80 420.00 C133.92 421.83 136.67 423.98 139.10 425.50 C141.53 427.02 143.98 427.60 146.40 429.10 C148.82 430.60 150.88 432.53 153.60 434.50 C156.32 436.47 159.67 439.38 162.70 440.90 C165.73 442.42 168.77 443.00 171.80 443.60 C174.83 444.20 177.87 444.10 180.90 444.50 C183.93 444.90 176.65 445.72 190.00 446.00 C203.35 446.28 249.17 446.17 261.00 446.20" fill="none" stroke="#0000ff" stroke-width="2.10"   stroke-linejoin="round" clip-path="url(#cC)"/>
<path d="M39.80 311.30 C40.32 310.18 41.87 306.08 42.90 304.60 C43.93 303.12 44.97 302.20 46.00 302.40 C47.03 302.60 47.97 303.58 49.10 305.80 C50.23 308.02 51.57 312.62 52.80 315.70 C54.03 318.78 55.48 321.92 56.50 324.30 C57.52 326.68 58.08 328.23 58.90 330.00 C59.72 331.77 59.95 333.25 61.40 334.90 C62.85 336.55 65.85 338.05 67.60 339.90 C69.35 341.75 70.78 343.55 71.90 346.00 C73.02 348.45 73.58 351.10 74.30 354.60 C75.02 358.10 75.68 362.88 76.20 367.00 C76.72 371.12 76.98 375.47 77.40 379.30 C77.82 383.13 78.43 386.65 78.70 390.00 C78.97 393.35 78.58 394.72 79.00 399.40 C79.42 404.08 80.37 412.58 81.20 418.10 C82.03 423.62 82.80 428.90 84.00 432.50 C85.20 436.10 86.72 438.48 88.40 439.70 C90.08 440.92 92.32 440.15 94.10 439.80 C95.88 439.45 96.75 438.32 99.10 437.60 C101.45 436.88 105.17 436.10 108.20 435.50 C111.23 434.90 114.27 434.07 117.30 434.00 C120.33 433.93 123.37 434.40 126.40 435.10 C129.43 435.80 132.48 437.38 135.50 438.20 C138.52 439.02 139.97 439.00 144.50 440.00 C149.03 441.00 155.12 443.17 162.70 444.20 C170.28 445.23 173.62 445.85 190.00 446.20 C206.38 446.55 249.17 446.28 261.00 446.30" fill="none" stroke="#ff0000" stroke-width="2.10"   stroke-linejoin="round" clip-path="url(#cC)"/>
<path d="M39.80 314.00 C40.03 313.58 40.75 311.75 41.20 311.50 C41.65 311.25 42.12 312.02 42.50 312.50 C42.88 312.98 43.02 312.43 43.50 314.40 C43.98 316.37 44.98 321.70 45.40 324.30 C45.82 326.90 45.58 327.00 46.00 330.00 C46.42 333.00 47.18 338.20 47.90 342.30 C48.62 346.40 49.48 350.48 50.30 354.60 C51.12 358.72 51.77 363.30 52.80 367.00 C53.83 370.70 55.07 374.13 56.50 376.80 C57.93 379.47 59.77 381.57 61.40 383.00 C63.03 384.43 64.92 384.58 66.30 385.40 C67.68 386.22 68.42 386.53 69.70 387.90 C70.98 389.27 72.82 390.97 74.00 393.60 C75.18 396.23 75.85 399.38 76.80 403.70 C77.75 408.02 78.73 414.47 79.70 419.50 C80.67 424.53 81.40 430.18 82.60 433.90 C83.80 437.62 85.22 440.23 86.90 441.80 C88.58 443.37 90.67 443.35 92.70 443.30 C94.73 443.25 96.52 441.97 99.10 441.50 C101.68 441.03 105.17 440.82 108.20 440.50 C111.23 440.18 114.27 439.60 117.30 439.60 C120.33 439.60 123.37 440.03 126.40 440.50 C129.43 440.97 132.48 441.90 135.50 442.40 C138.52 442.90 139.97 443.02 144.50 443.50 C149.03 443.98 155.12 444.82 162.70 445.30 C170.28 445.78 173.62 446.22 190.00 446.40 C206.38 446.58 249.17 446.40 261.00 446.40" fill="none" stroke="#000000" stroke-width="2.10"   stroke-linejoin="round" clip-path="url(#cC)"/>
<rect x="39.30" y="272.70" width="221.00" height="176.90" fill="none" stroke="#000" stroke-width="2.00"/>
<line x1="39.30" y1="449.60" x2="39.30" y2="453.80" stroke="#000" stroke-width="1.80"/>
<text x="39.30" y="463.80" font-size="10.00" text-anchor="middle" font-weight="bold">200</text>
<line x1="94.55" y1="449.60" x2="94.55" y2="453.80" stroke="#000" stroke-width="1.80"/>
<text x="94.55" y="463.80" font-size="10.00" text-anchor="middle" font-weight="bold">250</text>
<line x1="149.80" y1="449.60" x2="149.80" y2="453.80" stroke="#000" stroke-width="1.80"/>
<text x="149.80" y="463.80" font-size="10.00" text-anchor="middle" font-weight="bold">300</text>
<line x1="205.05" y1="449.60" x2="205.05" y2="453.80" stroke="#000" stroke-width="1.80"/>
<text x="205.05" y="463.80" font-size="10.00" text-anchor="middle" font-weight="bold">350</text>
<line x1="260.30" y1="449.60" x2="260.30" y2="453.80" stroke="#000" stroke-width="1.80"/>
<text x="260.30" y="463.80" font-size="10.00" text-anchor="middle" font-weight="bold">400</text>
<line x1="66.92" y1="449.60" x2="66.92" y2="451.90" stroke="#000" stroke-width="1.80"/>
<line x1="122.17" y1="449.60" x2="122.17" y2="451.90" stroke="#000" stroke-width="1.80"/>
<line x1="177.43" y1="449.60" x2="177.43" y2="451.90" stroke="#000" stroke-width="1.80"/>
<line x1="232.68" y1="449.60" x2="232.68" y2="451.90" stroke="#000" stroke-width="1.80"/>
<line x1="35.10" y1="284.30" x2="39.30" y2="284.30" stroke="#000" stroke-width="1.80"/>
<text x="32.60" y="287.90" font-size="10.00" text-anchor="end" font-weight="bold">4</text>
<line x1="35.10" y1="324.65" x2="39.30" y2="324.65" stroke="#000" stroke-width="1.80"/>
<text x="32.60" y="328.25" font-size="10.00" text-anchor="end" font-weight="bold">3</text>
<line x1="35.10" y1="365.00" x2="39.30" y2="365.00" stroke="#000" stroke-width="1.80"/>
<text x="32.60" y="368.60" font-size="10.00" text-anchor="end" font-weight="bold">2</text>
<line x1="35.10" y1="405.35" x2="39.30" y2="405.35" stroke="#000" stroke-width="1.80"/>
<text x="32.60" y="408.95" font-size="10.00" text-anchor="end" font-weight="bold">1</text>
<line x1="35.10" y1="445.70" x2="39.30" y2="445.70" stroke="#000" stroke-width="1.80"/>
<text x="32.60" y="449.30" font-size="10.00" text-anchor="end" font-weight="bold">0</text>
<line x1="37.00" y1="304.48" x2="39.30" y2="304.48" stroke="#000" stroke-width="1.80"/>
<line x1="37.00" y1="344.83" x2="39.30" y2="344.83" stroke="#000" stroke-width="1.80"/>
<line x1="37.00" y1="385.18" x2="39.30" y2="385.18" stroke="#000" stroke-width="1.80"/>
<line x1="37.00" y1="425.52" x2="39.30" y2="425.52" stroke="#000" stroke-width="1.80"/>
<text x="0" y="0" font-size="10.00" text-anchor="middle" font-weight="bold" transform="translate(15.40 356.30) rotate(-90)" dominant-baseline="central">Absorbance</text>
<text x="107.30" y="479.00" font-size="10.00" text-anchor="start" font-weight="bold">Wavelength(nm)</text>
<text x="88.20" y="295.00" font-size="16.60" text-anchor="start" font-weight="bold">(C)</text>
<line x1="190.6" y1="283.70" x2="214.2" y2="283.70" stroke="#000000" stroke-width="2"/>
<text x="216.00" y="287.40" font-size="10.00" text-anchor="start" font-weight="bold">0.1ppm</text>
<line x1="190.6" y1="296.20" x2="214.2" y2="296.20" stroke="#ff0000" stroke-width="2"/>
<text x="216.00" y="299.90" font-size="10.00" text-anchor="start" font-weight="bold">0.05ppm</text>
<line x1="190.6" y1="308.70" x2="214.2" y2="308.70" stroke="#0000ff" stroke-width="2"/>
<text x="216.00" y="312.40" font-size="10.00" text-anchor="start" font-weight="bold">0.02ppm</text>
<line x1="190.6" y1="321.30" x2="214.2" y2="321.30" stroke="#ff00ff" stroke-width="2"/>
<text x="216.00" y="325.00" font-size="10.00" text-anchor="start" font-weight="bold">0.01ppm</text>
<clipPath id="cD"><rect x="316.10" y="272.50" width="220.30" height="177.30"/></clipPath>
<path d="M316.40 294.10 C316.77 293.18 317.77 289.97 318.60 288.60 C319.43 287.23 320.48 286.42 321.40 285.90 C322.32 285.38 322.90 285.57 324.10 285.50 C325.30 285.43 327.08 285.35 328.60 285.50 C330.12 285.65 331.68 286.48 333.20 286.40 C334.72 286.32 336.42 285.68 337.70 285.00 C338.98 284.32 340.13 282.45 340.90 282.30 C341.67 282.15 341.62 284.25 342.30 284.10 C342.98 283.95 344.17 282.17 345.00 281.40 C345.83 280.63 346.55 279.58 347.30 279.50 C348.05 279.42 348.67 279.83 349.50 280.90 C350.33 281.97 351.38 284.53 352.30 285.90 C353.22 287.27 354.25 288.03 355.00 289.10 C355.75 290.17 356.27 289.65 356.80 292.30 C357.33 294.95 357.90 300.93 358.20 305.00 C358.50 309.07 358.37 310.32 358.60 316.70 C358.83 323.08 359.17 334.42 359.60 343.30 C360.03 352.18 360.78 363.47 361.20 370.00 C361.62 376.53 361.65 377.52 362.10 382.50 C362.55 387.48 363.32 395.48 363.90 399.90 C364.48 404.32 364.88 407.08 365.60 409.00 C366.32 410.92 367.33 411.27 368.20 411.40 C369.07 411.53 369.77 411.27 370.80 409.80 C371.83 408.33 373.22 404.98 374.40 402.60 C375.58 400.22 376.73 397.43 377.90 395.50 C379.07 393.57 380.10 392.50 381.40 391.00 C382.70 389.50 384.40 388.13 385.70 386.50 C387.00 384.87 388.18 382.73 389.20 381.20 C390.22 379.67 390.93 377.87 391.80 377.30 C392.67 376.73 393.68 378.13 394.40 377.80 C395.12 377.47 395.37 375.33 396.10 375.30 C396.83 375.27 398.05 376.62 398.80 377.60 C399.55 378.58 399.87 380.77 400.60 381.20 C401.33 381.63 402.33 379.33 403.20 380.20 C404.07 381.07 404.93 383.90 405.80 386.40 C406.67 388.90 407.23 392.43 408.40 395.20 C409.57 397.97 411.20 400.67 412.80 403.00 C414.40 405.33 416.25 407.15 418.00 409.20 C419.75 411.25 421.55 413.12 423.30 415.30 C425.05 417.48 426.77 419.97 428.50 422.30 C430.23 424.63 432.03 426.92 433.70 429.30 C435.37 431.68 436.93 434.75 438.50 436.60 C440.07 438.45 441.52 439.47 443.10 440.40 C444.68 441.33 446.10 441.95 448.00 442.20 C449.90 442.45 452.58 441.62 454.50 441.90 C456.42 442.18 457.85 443.30 459.50 443.90 C461.15 444.50 462.65 445.12 464.40 445.50 C466.15 445.88 467.40 446.07 470.00 446.20 C472.60 446.33 468.83 446.28 480.00 446.30 C491.17 446.32 527.50 446.30 537.00 446.30" fill="none" stroke="#ff00ff" stroke-width="2.10"   stroke-linejoin="round" clip-path="url(#cD)"/>
<path d="M316.40 296.40 C316.77 295.72 317.77 293.52 318.60 292.30 C319.43 291.08 320.48 289.63 321.40 289.10 C322.32 288.57 323.20 289.18 324.10 289.10 C325.00 289.02 325.90 288.75 326.80 288.60 C327.70 288.45 328.58 288.12 329.50 288.20 C330.42 288.28 331.38 289.03 332.30 289.10 C333.22 289.17 333.95 288.83 335.00 288.60 C336.05 288.37 337.53 287.85 338.60 287.70 C339.67 287.55 340.63 287.92 341.40 287.70 C342.17 287.48 342.45 287.00 343.20 286.40 C343.95 285.80 345.12 284.78 345.90 284.10 C346.68 283.42 347.30 282.30 347.90 282.30 C348.50 282.30 348.92 283.35 349.50 284.10 C350.08 284.85 350.78 285.97 351.40 286.80 C352.02 287.63 352.52 288.33 353.20 289.10 C353.88 289.87 354.90 290.42 355.50 291.40 C356.10 292.38 356.45 292.73 356.80 295.00 C357.15 297.27 357.38 301.38 357.60 305.00 C357.82 308.62 357.83 310.32 358.10 316.70 C358.37 323.08 358.75 334.42 359.20 343.30 C359.65 352.18 360.38 363.47 360.80 370.00 C361.22 376.53 361.25 377.52 361.70 382.50 C362.15 387.48 362.92 395.45 363.50 399.90 C364.08 404.35 364.47 407.22 365.20 409.20 C365.93 411.18 367.02 411.60 367.90 411.80 C368.78 412.00 369.48 411.80 370.50 410.40 C371.52 409.00 372.83 405.73 374.00 403.40 C375.17 401.07 376.33 398.28 377.50 396.40 C378.67 394.52 379.70 393.55 381.00 392.10 C382.30 390.65 384.00 389.30 385.30 387.70 C386.60 386.10 387.78 384.02 388.80 382.50 C389.82 380.98 390.52 379.18 391.40 378.60 C392.28 378.02 393.37 379.28 394.10 379.00 C394.83 378.72 395.08 376.90 395.80 376.90 C396.52 376.90 397.67 378.07 398.40 379.00 C399.13 379.93 399.47 382.07 400.20 382.50 C400.93 382.93 401.93 380.73 402.80 381.60 C403.67 382.47 404.53 385.23 405.40 387.70 C406.27 390.17 406.83 393.63 408.00 396.40 C409.17 399.17 410.80 401.97 412.40 404.30 C414.00 406.63 415.85 408.28 417.60 410.40 C419.35 412.52 421.15 414.73 422.90 417.00 C424.65 419.27 426.37 421.67 428.10 424.00 C429.83 426.33 431.62 428.75 433.30 431.00 C434.98 433.25 436.57 435.85 438.20 437.50 C439.83 439.15 441.47 440.07 443.10 440.90 C444.73 441.73 446.10 442.28 448.00 442.50 C449.90 442.72 452.58 441.92 454.50 442.20 C456.42 442.48 457.85 443.60 459.50 444.20 C461.15 444.80 462.65 445.42 464.40 445.80 C466.15 446.18 467.40 446.37 470.00 446.50 C472.60 446.63 468.83 446.58 480.00 446.60 C491.17 446.62 527.50 446.60 537.00 446.60" fill="none" stroke="#000000" stroke-width="2.10"   stroke-linejoin="round" clip-path="url(#cD)"/>
<rect x="316.10" y="272.50" width="220.30" height="177.30" fill="none" stroke="#000" stroke-width="2.00"/>
<line x1="316.10" y1="449.80" x2="316.10" y2="454.00" stroke="#000" stroke-width="1.80"/>
<text x="316.10" y="463.80" font-size="10.00" text-anchor="middle" font-weight="bold">200</text>
<line x1="371.18" y1="449.80" x2="371.18" y2="454.00" stroke="#000" stroke-width="1.80"/>
<text x="371.18" y="463.80" font-size="10.00" text-anchor="middle" font-weight="bold">250</text>
<line x1="426.25" y1="449.80" x2="426.25" y2="454.00" stroke="#000" stroke-width="1.80"/>
<text x="426.25" y="463.80" font-size="10.00" text-anchor="middle" font-weight="bold">300</text>
<line x1="481.32" y1="449.80" x2="481.32" y2="454.00" stroke="#000" stroke-width="1.80"/>
<text x="481.32" y="463.80" font-size="10.00" text-anchor="middle" font-weight="bold">350</text>
<line x1="536.40" y1="449.80" x2="536.40" y2="454.00" stroke="#000" stroke-width="1.80"/>
<text x="536.40" y="463.80" font-size="10.00" text-anchor="middle" font-weight="bold">400</text>
<line x1="343.64" y1="449.80" x2="343.64" y2="452.10" stroke="#000" stroke-width="1.80"/>
<line x1="398.71" y1="449.80" x2="398.71" y2="452.10" stroke="#000" stroke-width="1.80"/>
<line x1="453.79" y1="449.80" x2="453.79" y2="452.10" stroke="#000" stroke-width="1.80"/>
<line x1="508.86" y1="449.80" x2="508.86" y2="452.10" stroke="#000" stroke-width="1.80"/>
<line x1="311.90" y1="284.30" x2="316.10" y2="284.30" stroke="#000" stroke-width="1.80"/>
<text x="309.00" y="287.90" font-size="10.00" text-anchor="end" font-weight="bold">4</text>
<line x1="311.90" y1="324.65" x2="316.10" y2="324.65" stroke="#000" stroke-width="1.80"/>
<text x="309.00" y="328.25" font-size="10.00" text-anchor="end" font-weight="bold">3</text>
<line x1="311.90" y1="365.00" x2="316.10" y2="365.00" stroke="#000" stroke-width="1.80"/>
<text x="309.00" y="368.60" font-size="10.00" text-anchor="end" font-weight="bold">2</text>
<line x1="311.90" y1="405.35" x2="316.10" y2="405.35" stroke="#000" stroke-width="1.80"/>
<text x="309.00" y="408.95" font-size="10.00" text-anchor="end" font-weight="bold">1</text>
<line x1="311.90" y1="445.70" x2="316.10" y2="445.70" stroke="#000" stroke-width="1.80"/>
<text x="309.00" y="449.30" font-size="10.00" text-anchor="end" font-weight="bold">0</text>
<line x1="313.80" y1="304.48" x2="316.10" y2="304.48" stroke="#000" stroke-width="1.80"/>
<line x1="313.80" y1="344.83" x2="316.10" y2="344.83" stroke="#000" stroke-width="1.80"/>
<line x1="313.80" y1="385.18" x2="316.10" y2="385.18" stroke="#000" stroke-width="1.80"/>
<line x1="313.80" y1="425.52" x2="316.10" y2="425.52" stroke="#000" stroke-width="1.80"/>
<text x="0" y="0" font-size="10.00" text-anchor="middle" font-weight="bold" transform="translate(292.20 358.00) rotate(-90)" dominant-baseline="central">Absorbance</text>
<text x="392.30" y="479.00" font-size="10.00" text-anchor="start" font-weight="bold">Wavelength(nm)</text>
<text x="361.50" y="294.90" font-size="16.60" text-anchor="start" font-weight="bold">(D)</text>
<line x1="468.6" y1="284.30" x2="492.6" y2="284.30" stroke="#ff00ff" stroke-width="2"/>
<text x="494.90" y="287.80" font-size="9.80" text-anchor="start" font-weight="bold">1ppm</text>
<line x1="468.6" y1="296.60" x2="492.6" y2="296.60" stroke="#000000" stroke-width="2"/>
<text x="494.90" y="300.10" font-size="9.80" text-anchor="start" font-weight="bold">0.1ppm</text>
</svg>
</body></html>
